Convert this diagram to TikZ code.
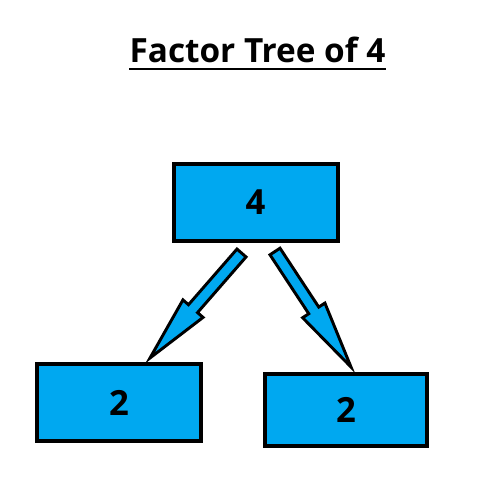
\documentclass[tikz,border=0pt]{standalone}
\usepackage{fontspec}
\setmainfont{Open Sans}
\usetikzlibrary{calc}
\definecolor{boxblue}{HTML}{00A8F0}
\tikzset{
  numbox/.style={draw=black, line width=3pt, fill=boxblue, font=\fontsize{26}{30}\selectfont\bfseries, inner sep=0pt},
  blockarrow/.style={draw=black, line width=2.2pt, fill=boxblue, line join=miter},
}
\begin{document}
\begin{tikzpicture}[x=0.75pt,y=-0.75pt]
\useasboundingbox (0,0) rectangle (482,488);
\node[font=\fontsize{25}{30}\selectfont\bfseries, anchor=base, inner sep=0pt] (title) at (257.5,63) {Factor Tree of 4};
\draw[line width=1.6pt] ($(title.base west)+(0,6)$) -- ($(title.base east)+(0,6)$);
\node[numbox, minimum width=123pt, minimum height=57pt] (top) at (255.5,202.5) {4};
\node[numbox, minimum width=123pt, minimum height=58pt] (left) at (119,402.5) {2};
\node[numbox, minimum width=122pt, minimum height=54pt] (right) at (346,410) {2};
% arrows
\coordinate (lt) at (241.5,253);
\coordinate (lh) at (150,358);
\coordinate (rt) at (275,251.5);
\coordinate (rh) at (351,367);
\foreach \T/\H/\f in {lt/lh/0.53, rt/rh/0.51}{
  \draw[blockarrow]
    ($(\T)!4.5pt!90:(\H)$) -- ($($(\T)!\f!(\H)$)!4.5pt!90:(\H)$) --
    ($($(\T)!\f!(\H)$)!10pt!90:(\H)$) -- (\H) --
    ($($(\T)!\f!(\H)$)!10pt!-90:(\H)$) -- ($($(\T)!\f!(\H)$)!4.5pt!-90:(\H)$) --
    ($(\T)!4.5pt!-90:(\H)$) -- cycle;
}
\end{tikzpicture}
\end{document}
